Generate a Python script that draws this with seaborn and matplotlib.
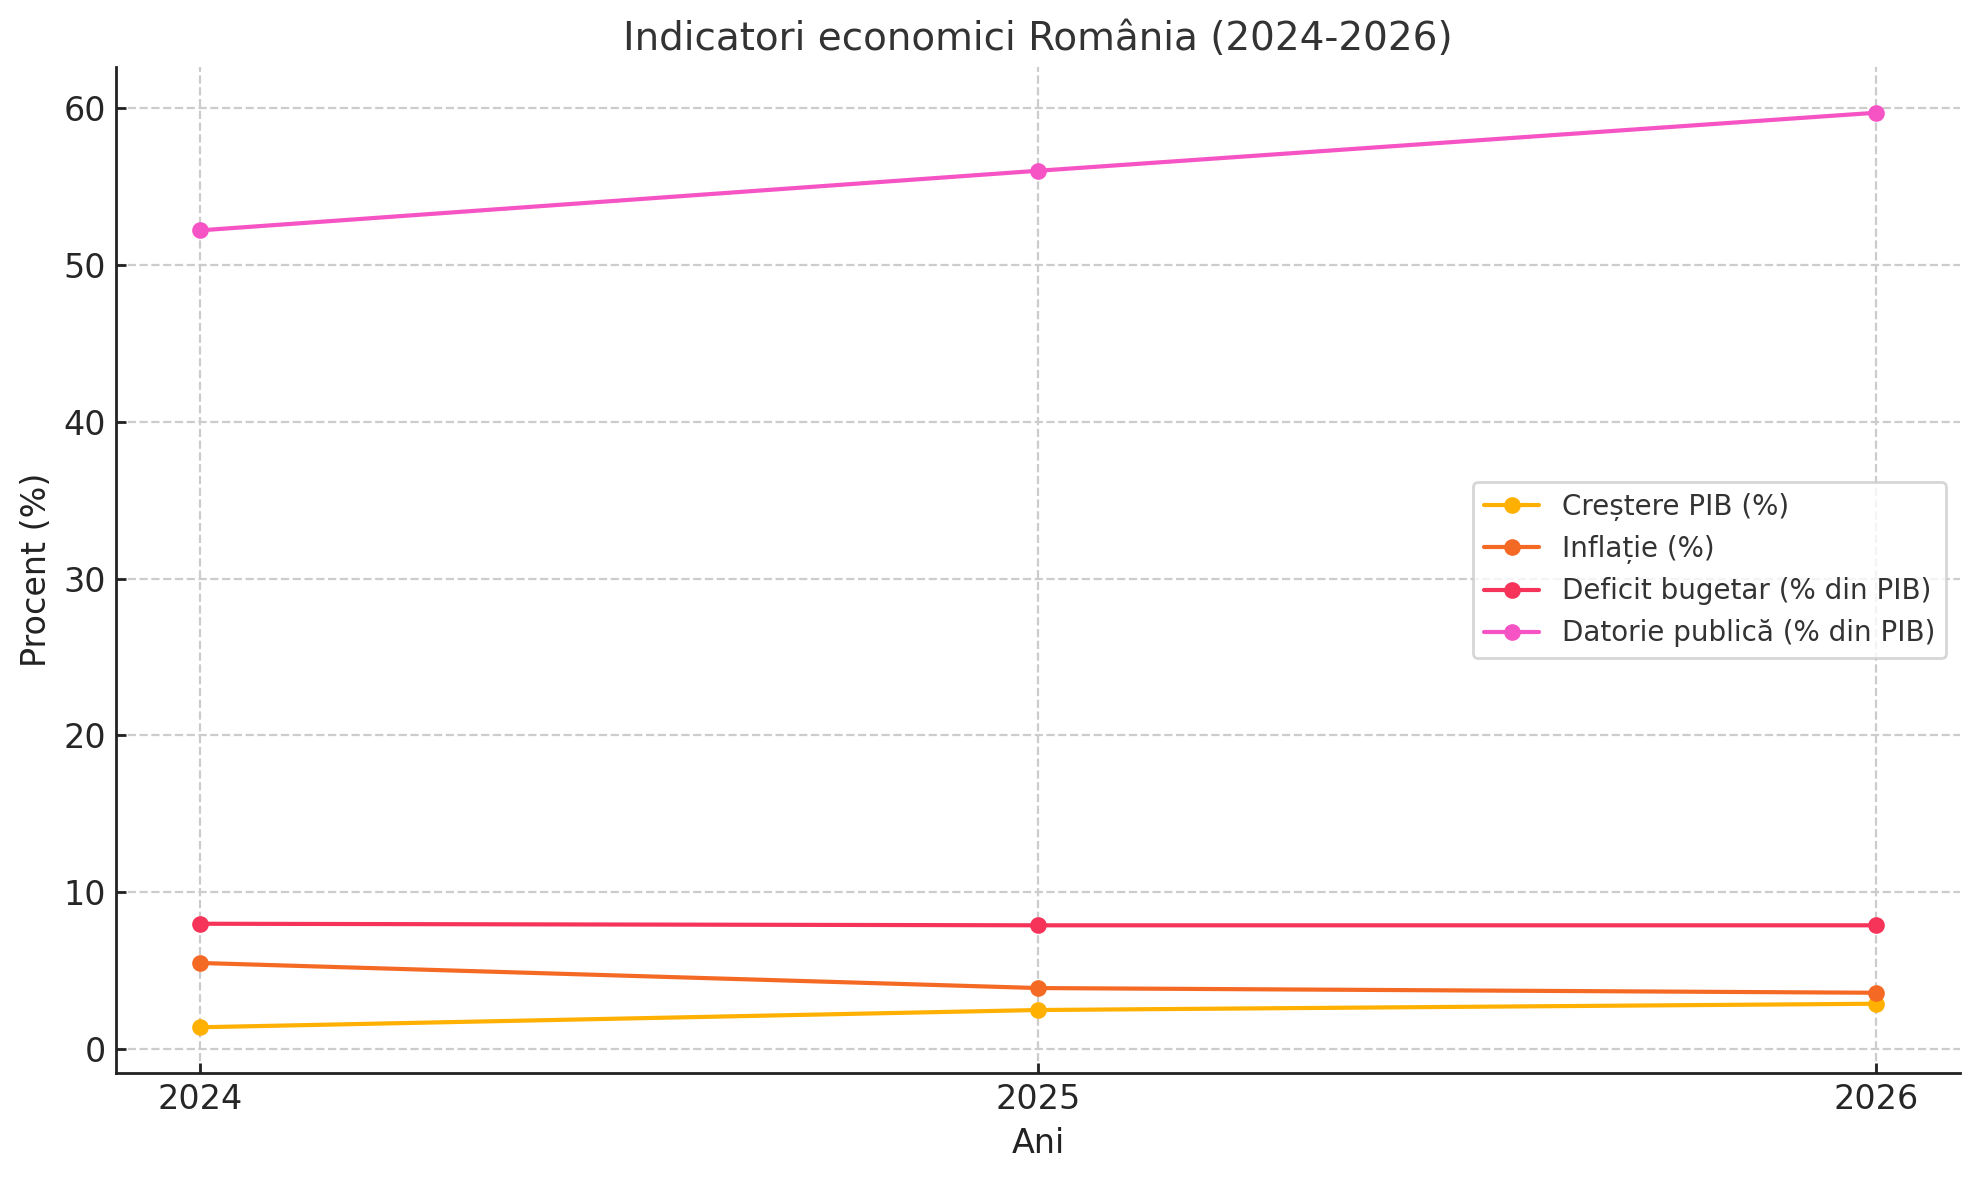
import matplotlib
matplotlib.use("Agg")
import matplotlib.pyplot as plt
import seaborn as sns
import pandas as pd

years = [2024, 2025, 2026]
crestere_pib = [1.4, 2.5, 2.9]
inflatie = [5.5, 3.9, 3.6]
deficit = [8.0, 7.9, 7.9]
datorie = [52.2, 56.0, 59.7]
series_names = ["Creștere PIB (%)", "Inflație (%)", "Deficit bugetar (% din PIB)", "Datorie publică (% din PIB)"]
colors = ["#FFB000", "#F46A25", "#F63359", "#F654C4"]

rows = []
for name, vals in zip(series_names, [crestere_pib, inflatie, deficit, datorie]):
    for y, v in zip(years, vals):
        rows.append({"An": y, "Valoare": v, "Indicator": name})
df = pd.DataFrame(rows)

sns.set_style("ticks")
plt.rcParams['font.family'] = ['DejaVu Sans']

fig = plt.figure(figsize=(1979/200, 1180/200), dpi=200)
ax = fig.add_axes([116/1979, 1-1073/1180, (1960-116)/1979, (1073-67)/1180])

sns.lineplot(data=df, x="An", y="Valoare", hue="Indicator", hue_order=series_names,
             palette=colors, marker="o", markersize=6, markeredgewidth=0, linewidth=1.5, ax=ax)

ax.set_xticks(years)
ax.set_xticklabels([str(y) for y in years])
ax.tick_params(labelsize=12, length=3.5, width=1.0, pad=3.5, direction="in", color="#222222")
ax.set_xlabel("Ani", fontsize=12, color="#222222")
ax.set_ylabel("Procent (%)", fontsize=12, color="#222222")
ax.set_title("Indicatori economici România (2024-2026)", fontsize=14, color="#333333")
ax.grid(True, linestyle="--", color="#cccccc", linewidth=0.8)
sns.despine(ax=ax)
for s in ("left", "bottom"):
    ax.spines[s].set_linewidth(1.0)
    ax.spines[s].set_color("#222222")
leg = ax.legend(loc="center right", fontsize=10, frameon=True)
for t in leg.get_texts():
    t.set_color("#333333")

fig.savefig("out.png", dpi=200)
